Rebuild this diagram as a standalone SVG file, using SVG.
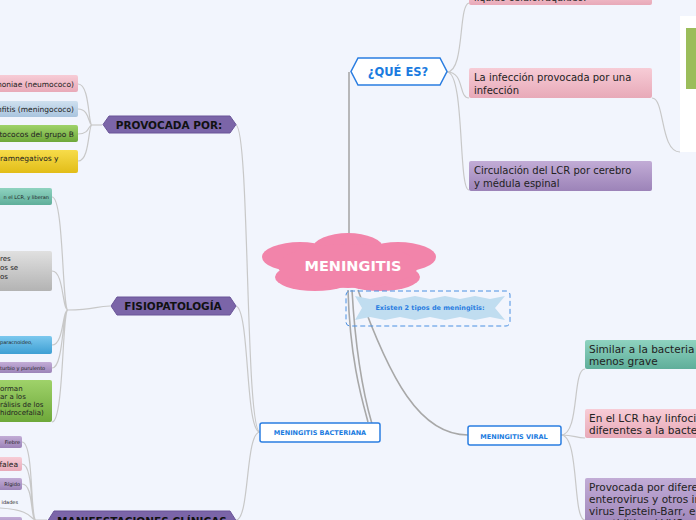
<svg xmlns="http://www.w3.org/2000/svg" width="696" height="520" viewBox="0 0 696 520">
<defs>
<style>
.t{font-family:"DejaVu Sans","Noto Sans",sans-serif;fill:#222}
.b{font-family:"DejaVu Sans",sans-serif;font-weight:bold}
.c{fill:none;stroke:#c8c8c8;stroke-width:1.2}
.c2{fill:none;stroke:#a8a8a8;stroke-width:1.6}
.hx{fill:#7b65a8;stroke:#6a5598}
.wb{fill:#fff;stroke:#2a7de1;stroke-width:1.5}
</style>
<linearGradient id="pk" x1="0" y1="0" x2="0" y2="1"><stop offset="0" stop-color="#f7ccd6"/><stop offset="1" stop-color="#e8a9b8"/></linearGradient>
<linearGradient id="pu" x1="0" y1="0" x2="0" y2="1"><stop offset="0" stop-color="#c2acd6"/><stop offset="1" stop-color="#9c83b8"/></linearGradient>
<linearGradient id="te" x1="0" y1="0" x2="0" y2="1"><stop offset="0" stop-color="#8fd3c0"/><stop offset="1" stop-color="#5fae9a"/></linearGradient>
<linearGradient id="bl" x1="0" y1="0" x2="0" y2="1"><stop offset="0" stop-color="#cfe0ef"/><stop offset="1" stop-color="#a9c4de"/></linearGradient>
<linearGradient id="gr" x1="0" y1="0" x2="0" y2="1"><stop offset="0" stop-color="#9fd26a"/><stop offset="1" stop-color="#6ea83a"/></linearGradient>
<linearGradient id="ye" x1="0" y1="0" x2="0" y2="1"><stop offset="0" stop-color="#f7dc4a"/><stop offset="1" stop-color="#e2bd18"/></linearGradient>
<linearGradient id="gy" x1="0" y1="0" x2="0" y2="1"><stop offset="0" stop-color="#e0e0e0"/><stop offset="1" stop-color="#b3b3b3"/></linearGradient>
<linearGradient id="cy" x1="0" y1="0" x2="0" y2="1"><stop offset="0" stop-color="#7cc8ee"/><stop offset="1" stop-color="#3d9fd3"/></linearGradient>
</defs>
<rect width="696" height="520" fill="#f2f5fd"/>
<g id="connectors">
<path class="c2" d="M349 72 V240"/>
<path class="c2" d="M352 290 C356 360 365 400 372 424"/>
<path class="c2" d="M358 290 C390 380 420 435 468 435"/>
<path class="c2" d="M348 290 C350 360 362 400 368 422"/>
<path class="c" d="M447 72 C465 72 458 5 469 3"/>
<path class="c" d="M447 72 C465 72 458 98 469 98"/>
<path class="c" d="M447 72 C465 72 458 190 469 190"/>
<path class="c" d="M652 98 C665 98 660 152 680 152"/>
<path class="c" d="M561 435 C580 435 572 369 585 369"/>
<path class="c" d="M561 435 C575 435 575 438 585 438"/>
<path class="c" d="M561 435 C580 435 572 520 585 520"/>
<path class="c" d="M260 432 C245 432 250 130 236 125"/>
<path class="c" d="M260 432 C245 432 250 310 236 306"/>
<path class="c" d="M260 432 C245 432 250 520 236 520"/>
<path class="c" d="M102 125 H92"/>
<path class="c" d="M92 125 C88 125 90 84 78 84 M92 125 C88 125 90 109 78 109 M92 125 C88 125 90 134 78 134 M92 125 C88 125 90 161 78 161"/>
<path class="c" d="M110 306 C95 306 95 310 68 310"/>
<path class="c" d="M68 310 C62 310 64 197 52 197 M68 310 C62 310 64 271 52 271 M68 310 C62 310 64 345 52 345 M68 310 C62 310 64 368 52 368 M68 310 C62 310 64 422 52 422"/>
<path class="c" d="M47 520 H36 M36 520 C30 520 34 442 22 442 M36 520 C30 520 34 464 22 464 M36 520 C30 520 34 484 22 484 M36 520 C30 520 34 510 0 508"/>
</g>
<g id="meningitis">
<g fill="#f284aa">
<ellipse cx="300" cy="257" rx="38" ry="15"/><ellipse cx="398" cy="257" rx="38" ry="15"/>
<ellipse cx="348" cy="248" rx="35" ry="15"/><ellipse cx="315" cy="277" rx="40" ry="14"/><ellipse cx="380" cy="277" rx="40" ry="14"/>
<ellipse cx="348" cy="266" rx="70" ry="22"/></g>
<text class="b" x="353" y="271" font-size="14.5" fill="#fff" text-anchor="middle">MENINGITIS</text>
</g>
<g id="tipos">
<rect x="346" y="291" width="164" height="35" rx="4" fill="none" stroke="#4a90e2" stroke-dasharray="5,3"/>
<path d="M355 296 L370 299 L385 296 L400 299 L415 296 L430 299 L445 296 L460 299 L475 296 L490 299 L505 296 L495 308 L505 320 L490 317 L475 320 L460 317 L445 320 L430 317 L415 320 L400 317 L385 320 L370 317 L355 320 L362 308 Z" fill="#c0ddf0"/>
<text class="b" x="430" y="310" font-size="6.5" fill="#2a7de1" text-anchor="middle">Existen 2 tipos de meningitis:</text>
</g>
<g id="quees">
<path class="wb" d="M358 58 H440 L447 71.5 L440 85 H358 L351 71.5 Z"/>
<text class="b" x="398" y="76" font-size="11.5" fill="#1a7be0" text-anchor="middle">¿QUÉ ES?</text>
</g>
<g id="liquido"><rect x="469" y="-10" width="183" height="15" rx="2" fill="url(#pk)"/><text class="t" x="474" y="1" font-size="9.5">líquido cefalorraquídeo.</text></g>
<g id="infeccion"><rect x="469" y="68" width="183" height="30" rx="2" fill="url(#pk)"/><text class="t" x="474" y="81" font-size="10">La infección  provocada por una</text><text class="t" x="474" y="94" font-size="10">infección</text></g>
<g id="circulacion"><rect x="469" y="161" width="183" height="30" rx="2" fill="url(#pu)"/><text class="t" x="474" y="174" font-size="10">Circulación del LCR por cerebro</text><text class="t" x="474" y="187" font-size="10">y médula espinal</text></g>
<g id="card"><rect x="680" y="16" width="20" height="136" fill="#fff"/><rect x="686" y="28" width="12" height="61" fill="#9bbd5a"/></g>
<g id="viral"><rect class="wb" x="468" y="426" width="93" height="19" rx="2"/><text class="b" x="514" y="438.5" font-size="6.5" fill="#1a7be0" text-anchor="middle">MENINGITIS VIRAL</text></g>
<g id="similar"><rect x="585" y="340" width="115" height="29" rx="2" fill="url(#te)"/><text class="t" x="589" y="353" font-size="10.5">Similar a la bacteria</text><text class="t" x="589" y="365" font-size="10.5">menos grave</text></g>
<g id="lcr"><rect x="585" y="409" width="115" height="29" rx="2" fill="url(#pk)"/><text class="t" x="589" y="422" font-size="10.5">En el LCR hay linfocitos</text><text class="t" x="589" y="434" font-size="10.5">diferentes  a la bacteriana</text></g>
<g id="provocadav"><rect x="585" y="478" width="115" height="50" rx="2" fill="url(#pu)"/><text class="t" x="589" y="491" font-size="10.5">Provocada por diferentes</text><text class="t" x="589" y="503" font-size="10.5">enterovirus y  otros incluidos</text><text class="t" x="589" y="515" font-size="10.5">virus Epstein-Barr, el de la</text><text class="t" x="589" y="527" font-size="10.5">parotiditis, el VHS</text></g>
<g id="bacteriana"><rect class="wb" x="260" y="423" width="120" height="19" rx="2"/><text class="b" x="320" y="435" font-size="6.5" fill="#1a7be0" text-anchor="middle">MENINGITIS BACTERIANA</text></g>
<g id="provocada"><path class="hx" d="M109 116 H230 L236 124.5 L230 133 H109 L103 124.5 Z"/><text class="b" x="169" y="129" font-size="10.5" fill="#111" text-anchor="middle">PROVOCADA POR:</text></g>
<g id="p1"><rect x="-5" y="75" width="83" height="17" rx="2" fill="url(#pk)"/><text class="t" x="74" y="87" font-size="7.5" text-anchor="end">moniae (neumococo)</text></g>
<g id="p2"><rect x="-5" y="101" width="83" height="16" rx="2" fill="url(#bl)"/><text class="t" x="74" y="112" font-size="7.5" text-anchor="end">nfitis (meningococo)</text></g>
<g id="p3"><rect x="-5" y="125" width="83" height="17" rx="2" fill="url(#gr)"/><text class="t" x="74" y="137" font-size="7.5" text-anchor="end">tococos del grupo B</text></g>
<g id="p4"><rect x="-5" y="150" width="83" height="23" rx="2" fill="url(#ye)"/><text class="t" x="0" y="161" font-size="7.5">ramnegativos y</text></g>
<g id="fisio"><path class="hx" d="M117 297 H230 L236 306 L230 315 H117 L111 306 Z"/><text class="b" x="173" y="310" font-size="10.5" fill="#111" text-anchor="middle">FISIOPATOLOGÍA</text></g>
<g id="f1"><rect x="-5" y="188" width="57" height="17" rx="2" fill="url(#te)"/><text class="t" x="49" y="198.5" font-size="5" text-anchor="end">n el LCR, y liberan</text></g>
<g id="f2"><rect x="-5" y="251" width="57" height="40" rx="2" fill="url(#gy)"/><text class="t" x="0" y="261" font-size="7">res</text><text class="t" x="0" y="270" font-size="7">os  se</text><text class="t" x="0" y="279" font-size="7">os</text></g>
<g id="f3"><rect x="-5" y="336" width="57" height="18" rx="2" fill="url(#cy)"/><text class="t" x="0" y="344" font-size="5">paracnoideo,</text></g>
<g id="f4"><rect x="-5" y="362" width="57" height="11" rx="2" fill="url(#pu)"/><text class="t" x="0" y="370" font-size="5">turbio y purulento</text></g>
<g id="f5"><rect x="-5" y="380" width="57" height="42" rx="2" fill="url(#gr)"/><text class="t" x="0" y="391" font-size="7">orman</text><text class="t" x="0" y="399" font-size="7">ar a los</text><text class="t" x="0" y="407" font-size="7">rálisis de los</text><text class="t" x="0" y="415" font-size="7">hidrocefalia)</text></g>
<g id="m1"><rect x="-5" y="436" width="27" height="12" rx="2" fill="url(#pu)"/><text class="t" x="20" y="444" font-size="5" text-anchor="end">Fiebre</text></g>
<g id="m2"><rect x="-5" y="457" width="27" height="14" rx="2" fill="url(#pk)"/><text class="t" x="18" y="467" font-size="7.5" text-anchor="end">falea</text></g>
<g id="m3"><rect x="-5" y="478" width="27" height="12" rx="2" fill="url(#pu)"/><text class="t" x="20" y="486" font-size="5" text-anchor="end">Rígido</text></g>
<g id="m4"><text class="t" x="18" y="504" font-size="5" text-anchor="end">idades</text></g>
<g id="m5"><rect x="-5" y="517" width="27" height="12" rx="2" fill="url(#pu)"/></g>
<g id="manif"><path class="hx" d="M54 511 H230 L236 520.5 L230 530 H54 L48 520.5 Z"/><text class="b" x="142" y="525" font-size="10.5" fill="#111" text-anchor="middle">MANIFESTACIONES CLÍNICAS</text></g>
</svg>
